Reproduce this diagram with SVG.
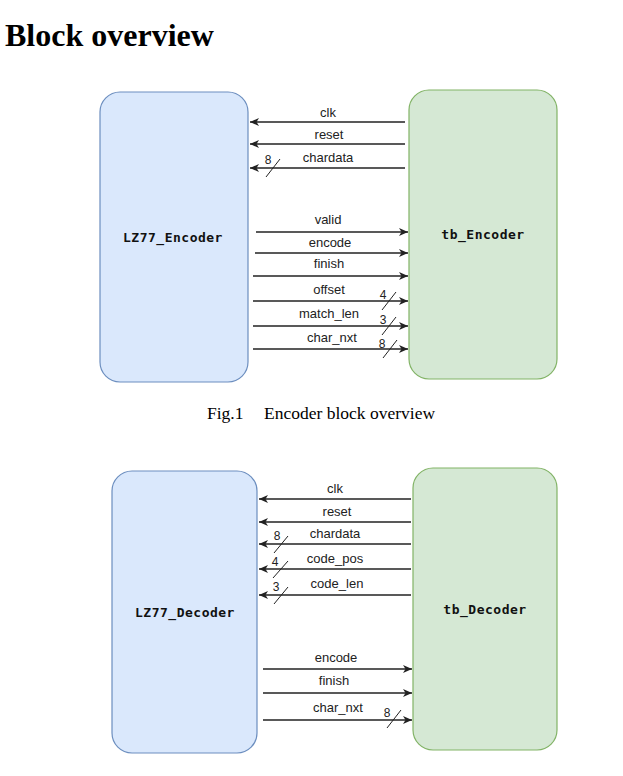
<svg xmlns="http://www.w3.org/2000/svg" width="623" height="776" viewBox="0 0 623 776">
<style>
.bg{fill:#ffffff}
.dut{fill:#dae8fc;stroke:#6c8ebf;stroke-width:1.2}
.tb{fill:#d5e8d4;stroke:#82b366;stroke-width:1.2}
.nl{font-family:"DejaVu Sans Mono",monospace;font-weight:bold;font-size:13px;letter-spacing:0.5px;fill:#111;text-anchor:middle}
.w{stroke:#222;stroke-width:1.3;fill:none;marker-end:url(#ah)}
.s{stroke:#222;stroke-width:1;fill:none}
.lb{font-family:"Liberation Sans",Arial,sans-serif;font-size:13px;fill:#222;text-anchor:middle}
.n{font-family:"Liberation Sans",Arial,sans-serif;font-size:12px;fill:#222;text-anchor:middle}
.title{font-family:"Liberation Serif","Times New Roman",serif;font-weight:bold;font-size:32px;fill:#000}
.cap{font-family:"Liberation Serif","Times New Roman",serif;font-size:17.5px;fill:#000}
</style>
<defs>
<marker id="ah" markerWidth="10" markerHeight="9" refX="9" refY="4" orient="auto" markerUnits="userSpaceOnUse">
<path d="M0,0 L9,4 L0,8 L2.5,4 z" fill="#222"/>
</marker>
</defs>
<rect class="bg" x="0" y="0" width="623" height="776"/>
<text class="title" x="5" y="46">Block overview</text>

<g id="LZ77_Encoder">
<rect class="dut" x="100" y="92" width="148" height="290" rx="20" ry="20"/>
<text class="nl" x="173" y="242">LZ77_Encoder</text>
</g>
<g id="tb_Encoder">
<rect class="tb" x="409" y="90" width="148" height="289" rx="20" ry="20"/>
<text class="nl" x="483" y="239">tb_Encoder</text>
</g>

<g id="caption1">
<text class="cap" x="207" y="419">Fig.1</text>
<text class="cap" x="264" y="419">Encoder block overview</text>
</g>

<g id="LZ77_Decoder">
<rect class="dut" x="112" y="471" width="145" height="282" rx="20" ry="20"/>
<text class="nl" x="185" y="617">LZ77_Decoder</text>
</g>
<g id="tb_Decoder">
<rect class="tb" x="413" y="468" width="144" height="282" rx="20" ry="20"/>
<text class="nl" x="485" y="614">tb_Decoder</text>
</g>

<g id="connectors">
<line class="w" x1="405" y1="122" x2="250" y2="122"/>
<text class="lb" x="328" y="117">clk</text>
<line class="w" x1="405" y1="144" x2="250" y2="144"/>
<text class="lb" x="329" y="139">reset</text>
<line class="w" x1="405" y1="168" x2="250" y2="168"/>
<text class="lb" x="328" y="162">chardata</text>
<line class="s" x1="266" y1="177" x2="280" y2="159"/>
<text class="n" x="268" y="164">8</text>
<line class="w" x1="256" y1="232" x2="408" y2="232"/>
<text class="lb" x="328" y="224">valid</text>
<line class="w" x1="255" y1="253" x2="408" y2="253"/>
<text class="lb" x="330" y="247">encode</text>
<line class="w" x1="253" y1="276" x2="408" y2="276"/>
<text class="lb" x="329" y="268">finish</text>
<line class="w" x1="253" y1="301" x2="408" y2="301"/>
<text class="lb" x="329" y="294">offset</text>
<line class="s" x1="382" y1="310" x2="396" y2="292"/>
<text class="n" x="383" y="299">4</text>
<line class="w" x1="253" y1="326" x2="408" y2="326"/>
<text class="lb" x="329" y="318">match_len</text>
<line class="s" x1="382" y1="335" x2="396" y2="317"/>
<text class="n" x="383" y="324">3</text>
<line class="w" x1="253" y1="349" x2="408" y2="349"/>
<text class="lb" x="332" y="342">char_nxt</text>
<line class="s" x1="383" y1="358" x2="397" y2="340"/>
<text class="n" x="382" y="348">8</text>

<line class="w" x1="411" y1="499" x2="259" y2="499"/>
<text class="lb" x="335" y="493">clk</text>
<line class="w" x1="411" y1="522" x2="259" y2="522"/>
<text class="lb" x="337" y="516">reset</text>
<line class="w" x1="411" y1="544" x2="259" y2="544"/>
<text class="lb" x="335" y="538">chardata</text>
<line class="s" x1="274" y1="553" x2="288" y2="536"/>
<text class="n" x="277" y="540">8</text>
<line class="w" x1="411" y1="569" x2="259" y2="569"/>
<text class="lb" x="335" y="563">code_pos</text>
<line class="s" x1="273" y1="578" x2="288" y2="561"/>
<text class="n" x="275" y="566">4</text>
<line class="w" x1="411" y1="595" x2="259" y2="595"/>
<text class="lb" x="337" y="588">code_len</text>
<line class="s" x1="274" y1="604" x2="288" y2="587"/>
<text class="n" x="276" y="591">3</text>
<line class="w" x1="263" y1="669" x2="412" y2="669"/>
<text class="lb" x="336" y="662">encode</text>
<line class="w" x1="263" y1="693" x2="412" y2="693"/>
<text class="lb" x="334" y="685">finish</text>
<line class="w" x1="263" y1="720" x2="412" y2="720"/>
<text class="lb" x="338" y="712">char_nxt</text>
<line class="s" x1="387" y1="728" x2="401" y2="710"/>
<text class="n" x="387" y="717">8</text>
</g>
</svg>
